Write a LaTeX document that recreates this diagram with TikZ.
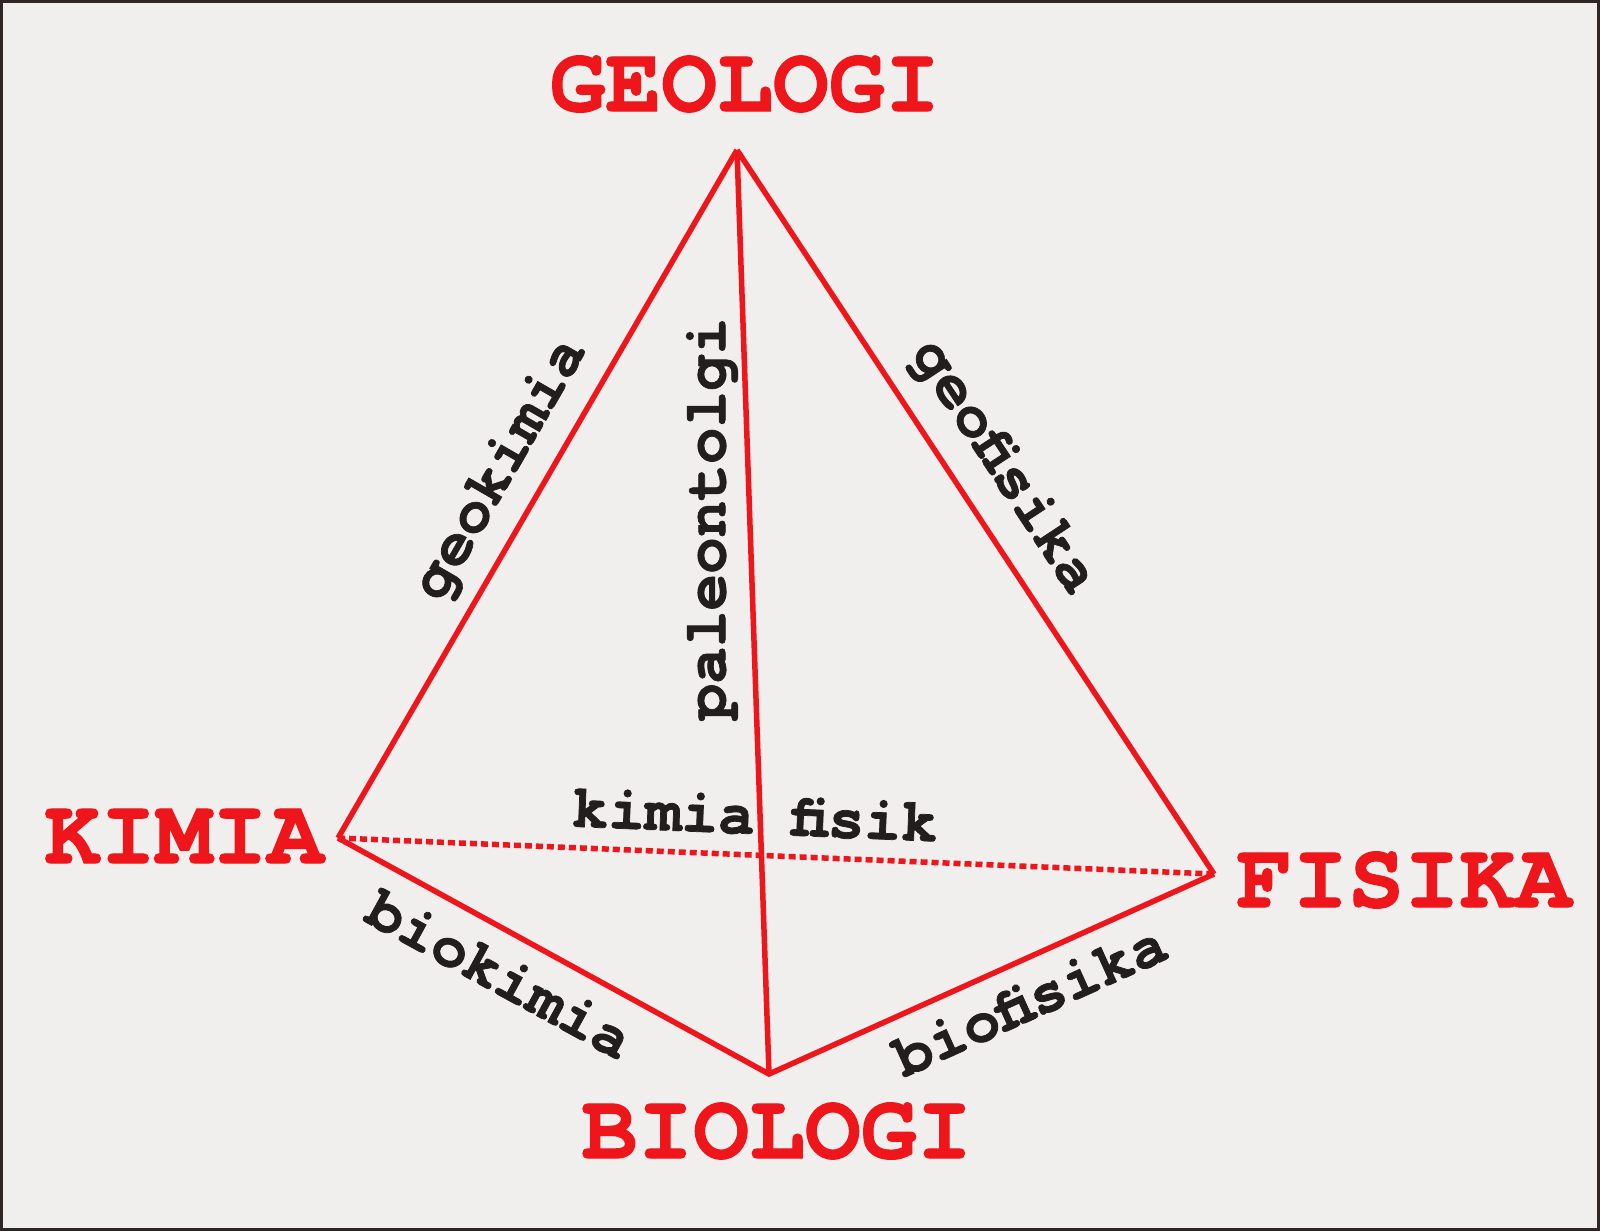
\documentclass[tikz,border=0pt]{standalone}
\usepackage{fontspec}
\setmonofont{TeX Gyre Cursor}[BoldFeatures={FakeBold=1.2}]
\definecolor{redc}{RGB}{238,22,26}
\definecolor{txtc}{RGB}{35,30,30}
\definecolor{bgc}{RGB}{240,239,237}
\definecolor{framec}{RGB}{45,38,34}
\tikzset{
  bigtext/.style={text=redc, font=\ttfamily\bfseries\fontsize{93}{93}\selectfont, inner sep=0pt},
  smalltext/.style={text=txtc, font=\ttfamily\bfseries\fontsize{61}{61}\selectfont, inner sep=0pt},
  edge/.style={draw=redc, line width=5.5pt, line join=miter},
  hidden/.style={draw=redc, line width=5.5pt, dash pattern=on 7pt off 4pt}
}
\begin{document}
\begin{tikzpicture}[x=1pt,y=-1pt]
\useasboundingbox (0,0) rectangle (1600,1231);
\draw[fill=bgc, draw=framec, line width=3pt] (1.5,1.5) rectangle (1598.5,1229.5);
% vertices
\coordinate (G) at (737,150);
\coordinate (K) at (338,838);
\coordinate (F) at (1214,874);
\coordinate (B) at (769,1074);
% edges
\draw[hidden] (K) -- (F);
\draw[edge] (G) -- (K);
\draw[edge] (G) -- (F);
\draw[edge] (G) -- (B);
\draw[edge] (K) -- (B) -- (F);
% big labels
\node[bigtext] (geologi) at (745,84) {GEOLOGI};
\node[bigtext] (kimia) at (184,836) {KIMIA};
\node[bigtext] (fisika) at (1404,880) {FISIKA};
\node[bigtext] (biologi) at (777,1131) {BIOLOGI};
% small labels
\node[smalltext, rotate=60] (geokimia) at (502,470) {geokimia};
\node[smalltext, rotate=90] (paleo) at (712,519) {paleontolgi};
\node[smalltext, rotate=-56.6] (geofisika) at (1002,468) {geofisika};
\node[smalltext, rotate=-2.35] (kf) at (755,815) {kimia fisik};
\node[smalltext, rotate=-28.7] (biokimia) at (500,974) {biokimia};
\node[smalltext, rotate=24.3] (biofisika) at (1030,1000) {biofisika};
\end{tikzpicture}
\end{document}
